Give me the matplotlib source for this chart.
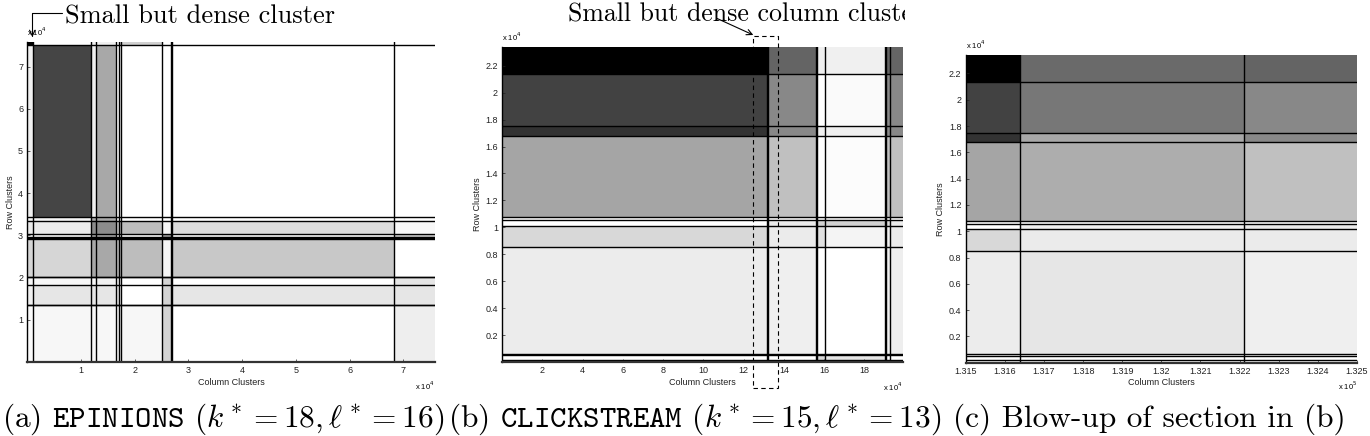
import numpy as np
import matplotlib
matplotlib.use('Agg')
import matplotlib.pyplot as plt
from matplotlib.patches import Rectangle
from matplotlib.ticker import FuncFormatter

plt.rcParams['font.family'] = ['Liberation Sans', 'DejaVu Sans']

# (a) EPINIONS: cluster boundaries (node index) and grey level of each block (0 black .. 255 white)
epi_col_edges = [0, 1100, 11900, 12700, 16600, 17100, 25100, 26700, 68300, 75888]
epi_row_edges = [0, 13400, 18300, 20000, 29200, 29600, 30400, 33400, 34200, 75200, 75888]
epi_extra_cols = [17350, 26950]
epi_extra_rows = [13550, 20150, 29400]
epi_grey = [  # rows bottom -> top, columns left -> right
    [250, 247, 247, 247, 250, 247, 212, 255, 238],
    [240, 230, 230, 230, 232, 255, 212, 230, 230],
    [247, 247, 247, 240, 245, 255, 212, 255, 230],
    [214, 214, 168, 168, 190, 189, 245, 200, 255],
    [255, 255, 220, 220, 255, 255, 200, 255, 215],
    [255, 255, 170, 170, 255, 255, 160, 255, 210],
    [235, 235, 140, 140, 200, 189, 245, 220, 248],
    [245, 245, 168, 168, 255, 255, 255, 255, 255],
    [240,  69, 240, 168, 255, 255, 255, 255, 255],
    [  0, 255, 240, 240, 255, 208, 255, 255, 255],
]

# (b) CLICKSTREAM, (c) is the same matrix blown up
clk_col_edges = [0, 131640, 132212, 156000, 160200, 190200, 192500, 199000]
clk_row_edges = [0, 200, 530, 640, 8530, 10130, 10560, 10800, 16800, 17500, 21350, 23400]
clk_extra_cols = [156350, 190550]
clk_grey = [
    [255, 255, 255, 216, 230, 255, 255],
    [255, 255, 255, 216, 230, 255, 255],
    [255, 255, 255, 216, 230, 255, 255],
    [236, 230, 239, 255, 255, 240, 238],
    [216, 235, 235, 224, 244, 240, 235],
    [255, 240, 235, 210, 210, 220, 235],
    [255, 255, 255, 255, 255, 255, 255],
    [165, 173, 192, 255, 252, 192, 192],
    [ 51, 168, 136, 239, 239, 136, 136],
    [ 66, 119, 136, 255, 250, 136, 136],
    [  0, 106, 100, 239, 240, 100, 101],
]
blowup_xlim = [131500, 132500]
zoom_box = [124900, -1880, 137300, 24200]   # x0, y0, x1, y1 of dashed box in (b)


def draw_blocks(ax, col_edges, row_edges, grey, extra_cols=(), extra_rows=()):
    ax.pcolormesh(col_edges, row_edges, np.array(grey), cmap='gray', vmin=0, vmax=255,
                  shading='flat', edgecolors='none', antialiased=False)
    for x in list(col_edges[1:-1]) + list(extra_cols):
        ax.axvline(x, color='k', lw=1.0)
    for y in list(row_edges[1:-1]) + list(extra_rows):
        ax.axhline(y, color='k', lw=1.0)
    ax.set_xlim(col_edges[0], col_edges[-1])
    ax.set_ylim(row_edges[0], row_edges[-1])
    ax.spines['top'].set_visible(False)
    ax.spines['right'].set_visible(False)
    ax.spines['left'].set_linewidth(1.0)
    ax.spines['bottom'].set_linewidth(1.6)
    ax.spines['bottom'].set_color('#333333')
    ax.tick_params(labelsize=6.5, length=2, width=0.5, direction='in', pad=3,
                   colors='#222222')
    ax.set_xlabel('Column Clusters', fontsize=6.5, color='#222222')
    ax.set_ylabel('Row Clusters', fontsize=6.5, color='#222222')


def scaled(p):
    return FuncFormatter(lambda v, pos: f'{v / 10**p:g}')


fig = plt.figure(figsize=(13.7, 4.36), dpi=100)

ax1 = fig.add_axes([0.01993, 0.17041, 0.29759, 0.73394])
draw_blocks(ax1, epi_col_edges, epi_row_edges, epi_grey, epi_extra_cols, epi_extra_rows)
ax1.set_xticks(np.arange(10000, 75000, 10000))
ax1.set_yticks(np.arange(10000, 75000, 10000))
ax1.xaxis.set_major_formatter(scaled(4))
ax1.yaxis.set_major_formatter(scaled(4))
ax1.xaxis.set_label_coords(0.5, -0.05)
ax1.yaxis.set_label_coords(-0.031, 0.5)
ax1.text(0.0, 1.012, 'x 10$^4$', transform=ax1.transAxes, fontsize=5.5, va='bottom', ha='left')
ax1.text(1.0, -0.076, 'x 10$^4$', transform=ax1.transAxes, fontsize=5.5, va='center', ha='right')

ax2 = fig.add_axes([0.36642, 0.1690, 0.29248, 0.72385])
draw_blocks(ax2, clk_col_edges, clk_row_edges, clk_grey, clk_extra_cols)
ax2.set_yticks(np.arange(2000, 23000, 2000))
ax2.set_xticks(np.arange(20000, 199000, 20000))
ax2.xaxis.set_major_formatter(scaled(4))
ax2.yaxis.set_major_formatter(scaled(4))
ax2.xaxis.set_label_coords(0.5, -0.05)
ax2.yaxis.set_label_coords(-0.051, 0.5)
ax2.text(0.0, 1.012, 'x 10$^4$', transform=ax2.transAxes, fontsize=5.5, va='bottom', ha='left')
ax2.text(1.0, -0.076, 'x 10$^4$', transform=ax2.transAxes, fontsize=5.5, va='center', ha='right')
ax2.add_patch(Rectangle((zoom_box[0], zoom_box[1]), zoom_box[2] - zoom_box[0],
                        zoom_box[3] - zoom_box[1], fill=False, ls=(0, (4, 3)),
                        lw=0.8, color='k', clip_on=False))

ax3 = fig.add_axes([0.70489, 0.16812, 0.28562, 0.70573])
draw_blocks(ax3, clk_col_edges, clk_row_edges, clk_grey, clk_extra_cols)
ax3.set_xlim(blowup_xlim)
ax3.set_xticks(np.arange(blowup_xlim[0], blowup_xlim[1] + 1, 100))
ax3.set_yticks(np.arange(2000, 23000, 2000))
ax3.xaxis.set_major_formatter(scaled(5))
ax3.yaxis.set_major_formatter(scaled(4))
ax3.xaxis.set_label_coords(0.5, -0.05)
ax3.yaxis.set_label_coords(-0.052, 0.5)
ax3.text(0.0, 1.012, 'x 10$^4$', transform=ax3.transAxes, fontsize=5.5, va='bottom', ha='left')
ax3.text(1.0, -0.076, 'x 10$^5$', transform=ax3.transAxes, fontsize=5.5, va='center', ha='right')

# annotations
fig.text(65 / 1370, 1 - 23 / 436, 'Small but dense cluster', family='cmr10', fontsize=19,
         va='baseline', ha='left')
fig.add_artist(plt.Annotation('', xy=(32.3, 399), xytext=(62, 422.7), xycoords='figure pixels',
                              arrowprops=dict(arrowstyle='->', lw=0.8, shrinkA=0, shrinkB=0,
                                              connectionstyle='angle,angleA=0,angleB=90,rad=0')))
t = fig.text(568 / 1370, 1 - 21 / 436, 'Small but dense column clusters', family='cmr10',
             fontsize=18.6, va='baseline', ha='left')
t.set_clip_path(Rectangle((0, 0), 905 / 1370, 1, transform=fig.transFigure))
fig.add_artist(plt.Annotation('', xy=(753.3, 401), xytext=(716.7, 417.7), xycoords='figure pixels',
                              arrowprops=dict(arrowstyle='->', lw=0.8, shrinkA=0, shrinkB=0)))

# captions
cap = dict(family='cmr10', math_fontfamily='cm', fontsize=22.6, va='baseline', ha='left')
fig.text(2 / 1370, 1 - 427 / 436, r'(a) $\mathtt{EPINIONS}$ $(k^* = 18, \ell^* = 16)$', **cap)
fig.text(448 / 1370, 1 - 427 / 436, r'(b) $\mathtt{CLICKSTREAM}$ $(k^* = 15, \ell^* = 13)$', **cap)
fig.text(953 / 1370, 1 - 427 / 436, r'(c) Blow-up of section in (b)', **cap)

fig.savefig('out.png', dpi=100)
